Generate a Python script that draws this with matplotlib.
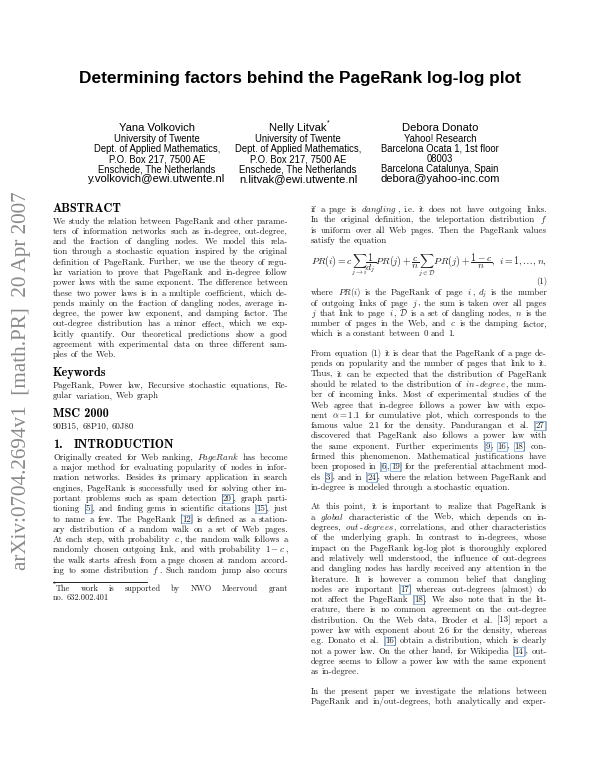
import re
import matplotlib
matplotlib.use("Agg")
import matplotlib.pyplot as plt
from matplotlib.patches import Rectangle
from matplotlib.lines import Line2D

plt.rcParams["mathtext.fontset"] = "cm"

# ------------------------------------------------------------------ content
title = "Determining factors behind the PageRank log-log plot"
authors = ["Yana Volkovich", "Nelly Litvak", "Debora Donato"]
author_marks = ["", "*", ""]
affiliations = [
    ["University of Twente", "Dept. of Applied Mathematics,",
     "P.O. Box 217, 7500 AE", "Enschede, The Netherlands"],
    ["University of Twente", "Dept. of Applied Mathematics,",
     "P.O. Box 217, 7500 AE", "Enschede, The Netherlands"],
    ["Yahoo! Research", "Barcelona Ocata 1, 1st floor",
     "08003", "Barcelona Catalunya, Spain"],
]
emails = ["y.volkovich@ewi.utwente.nl", "n.litvak@ewi.utwente.nl",
          "debora@yahoo-inc.com"]
stamp = "arXiv:0704.2694v1  [math.PR]  20 Apr 2007"

heading_abstract = "ABSTRACT"
abstract_lines = [
    "We study the relation between PageRank and other parame-",
    "ters of information networks such as in-degree, out-degree,",
    "and the fraction of dangling nodes.  We model this rela-",
    "tion through a stochastic equation inspired by the original",
    "definition of PageRank. Further, we use the theory of regu-",
    "lar variation to prove that PageRank and in-degree follow",
    "power laws with the same exponent. The difference between",
    "these two power laws is in a multiple coefficient, which de-",
    "pends mainly on the fraction of dangling nodes, average in-",
    "degree, the power law exponent, and damping factor. The",
    "out-degree distribution has a minor effect, which we exp-",
    "licitly quantify. Our theoretical predictions show a good",
    "agreement with experimental data on three different sam-",
    "ples of the Web.",
]
heading_keywords = "Keywords"
keywords_lines = [
    "PageRank, Power law, Recursive stochastic equations, Re-",
    "gular variation, Web graph",
]
heading_msc = "MSC 2000"
msc_lines = ["90B15, 68P10, 60J80"]
heading_intro_num = "1."
heading_intro = "INTRODUCTION"
intro_lines = [
    "Originally created for Web ranking, ~PageRank~ has become",
    "a major method for evaluating popularity of nodes in infor-",
    "mation networks. Besides its primary application in search",
    "engines, PageRank is successfully used for solving other im-",
    "portant problems such as spam detection [{20}], graph parti-",
    "tioning [{5}], and finding gems in scientific citations [{15}], just",
    "to name a few. The PageRank [{12}] is defined as a station-",
    "ary distribution of a random walk on a set of Web pages.",
    "At each step, with probability $c$, the random walk follows a",
    "randomly chosen outgoing link, and with probability $1-c$,",
    "the walk starts afresh from a page chosen at random accord-",
    "ing to some distribution $f$. Such random jump also occurs",
]
footnote_lines = [
    "^*^The work is supported by NWO Meervoud grant",
    "no. 632.002.401",
]

right_p1 = [
    "if a page is ~dangling~, i.e. it does not have outgoing links.",
    "In the original definition, the teleportation distribution $f$",
    "is uniform over all Web pages. Then the PageRank values",
    "satisfy the equation",
]
equation = (r"$PR(i)=c\sum_{j\rightarrow i}\dfrac{1}{d_j}PR(j)+\dfrac{c}{n}"
            r"\sum_{j\in\mathcal{D}}PR(j)+\dfrac{1-c}{n},\ i=1,\ldots,n,$")
equation_number = "(1)"
right_p2 = [
    "where $PR(i)$ is the PageRank of page $i$, $d_j$ is the number",
    "of outgoing links of page $j$, the sum is taken over all pages",
    "$j$ that link to page $i$, $\\mathcal{D}$ is a set of dangling nodes, $n$ is the",
    "number of pages in the Web, and $c$ is the damping factor,",
    "which is a constant between 0 and 1.",
]
right_p3 = [
    "From equation (1) it is clear that the PageRank of a page de-",
    "pends on popularity and the number of pages that link to it.",
    "Thus, it can be expected that the distribution of PageRank",
    "should be related to the distribution of ~in-degree~, the num-",
    "ber of incoming links. Most of experimental studies of the",
    "Web agree that in-degree follows a power law with expo-",
    "nent $\\alpha=1.1$ for cumulative plot, which corresponds to the",
    "famous value 2.1 for the density. Pandurangan et al. [{27}]",
    "discovered that PageRank also follows a power law with",
    "the same exponent. Further experiments [{9}, {16}, {18}] con-",
    "firmed this phenomenon. Mathematical justifications have",
    "been proposed in [{6}, {19}] for the preferential attachment mod-",
    "els [{3}], and in [{24}], where the relation between PageRank and",
    "in-degree is modeled through a stochastic equation.",
]
right_p4 = [
    "At this point, it is important to realize that PageRank is",
    "a ~global~ characteristic of the Web, which depends on in-",
    "degrees, ~out-degrees~, correlations, and other characteristics",
    "of the underlying graph. In contrast to in-degrees, whose",
    "impact on the PageRank log-log plot is thoroughly explored",
    "and relatively well understood, the influence of out-degrees",
    "and dangling nodes has hardly received any attention in the",
    "literature. It is however a common belief that dangling",
    "nodes are important [{17}] whereas out-degrees (almost) do",
    "not affect the PageRank [{18}]. We also note that in the lit-",
    "erature, there is no common agreement on the out-degree",
    "distribution. On the Web data, Broder et al. [13] report a",
    "power law with exponent about 2.6 for the density, whereas",
    "e.g. Donato et al. [{16}] obtain a distribution, which is clearly",
    "not a power law. On the other hand, for Wikipedia [{14}], out-",
    "degree seems to follow a power law with the same exponent",
    "as in-degree.",
]
right_p5 = [
    "In the present paper we investigate the relations between",
    "PageRank and in/out-degrees, both analytically and exper-",
]

# ------------------------------------------------------------------ page setup
W, H = 600, 776
fig = plt.figure(figsize=(W / 100, H / 100), dpi=100)
fig.patch.set_facecolor("white")
ax = fig.add_axes([0, 0, 1, 1])
ax.set_xlim(0, W)
ax.set_ylim(H, 0)
ax.axis("off")
R = fig.canvas.get_renderer()

INK = "#1e1e1e"
LINK = "#93bce8"
BODY = 6.4
HEAD = 8.8
LEAD = 10.3
LX0, LX1 = 53, 288
RX0, RX1 = 311, 547
SANS = "Liberation Sans"


def px(pt):
    return pt * 100 / 72


SEG_RE = re.compile(r"(\$[^$]+\$|\{[^}]+\}|~[^~]+~|\^[^^]+\^)")


def parse(word):
    out = []
    for part in SEG_RE.split(word):
        if not part:
            continue
        if part[0] == "$":
            out.append(("math", part))
        elif part[0] == "{":
            out.append(("cite", part[1:-1]))
        elif part[0] == "~":
            pieces = part[1:-1].split("-")
            for k, p in enumerate(pieces):
                if k:
                    out.append(("rm", "-"))
                if p:
                    out.append(("it", r"$\mathit{" + p + "}$"))
        elif part[0] == "^":
            out.append(("sup", part[1:-1]))
        else:
            out.append(("rm", part))
    return out


def seg_artist(kind, s, y, size, family, color):
    if kind in ("rm", "cite"):
        t = ax.text(0, y, s, fontsize=size, family=family, color=color,
                    va="baseline", ha="left")
    elif kind in ("math", "it"):
        t = ax.text(0, y, s, fontsize=size, color=color,
                    va="baseline", ha="left")
    else:
        t = ax.text(0, y - 0.42 * px(size), s, fontsize=size * 0.7,
                    family=family, color=color, va="baseline", ha="left")
    return t, t.get_window_extent(R).width, kind


def draw_line(line, x0, x1, y, size=BODY, family="cmr10", justify=True,
              color=INK):
    words = [[seg_artist(k, s, y, size, family, color) for k, s in parse(wd)]
             for wd in line.split()]
    widths = [sum(w for _, w, _ in segs) for segs in words]
    n = len(words)
    gap = 0.3333 * px(size)
    if justify and n > 1:
        gap = (x1 - x0 - sum(widths)) / (n - 1)
    x = x0
    for segs in words:
        for t, w, k in segs:
            t.set_x(x)
            if k == "cite":
                top = y - 0.70 * px(size) - 0.4
                ax.add_patch(Rectangle((x - 0.6, top), w + 1.2,
                                       (y + 1.9) - top, fill=False,
                                       ec=LINK, lw=0.7))
            x += w
        x += gap


def draw_par(lines, x0, x1, y0, lead=LEAD, last_justified=False, **kw):
    for i, ln in enumerate(lines):
        last = i == len(lines) - 1
        draw_line(ln, x0, x1, y0 + i * lead,
                  justify=(not last) or last_justified, **kw)
    return y0 + (len(lines) - 1) * lead


def heading(s, x, y):
    return ax.text(x, y, s, fontsize=HEAD, family="cmb10", color="black",
                   va="baseline", ha="left")


# ------------------------------------------------------------------ header
ax.text(300, 83, title, fontsize=12.4, family=SANS, weight="bold",
        color="black", ha="center", va="baseline")

col_x = [157, 298, 440]
for xc, name, mark, aff, mail in zip(col_x, authors, author_marks,
                                     affiliations, emails):
    t = ax.text(xc, 131, name, fontsize=8.1, family=SANS, color="black",
                ha="center", va="baseline")
    if mark:
        w = t.get_window_extent(R).width
        ax.text(xc + w / 2 + 0.6, 124.5, mark, fontsize=5.0, family=SANS,
                color="black", ha="left", va="baseline")
    for j, a in enumerate(aff):
        ax.text(xc, 141.5 + j * 10.3, a, fontsize=6.85, family=SANS,
                color="black", ha="center", va="baseline")
    ax.text(xc, 182.5, mail, fontsize=8.1, family=SANS, color="black",
            ha="center", va="baseline")

ax.text(22, 381, stamp, rotation=90, fontsize=15.2, family="Liberation Serif",
        color="#8a8a8a", ha="center", va="center")

# ------------------------------------------------------------------ left column
heading(heading_abstract, LX0, 212)
y = draw_par(abstract_lines, LX0, LX1, 223.5)

y += 19
heading(heading_keywords, LX0, y)
y = draw_par(keywords_lines, LX0, LX1, y + 11.5)

y += 19
heading(heading_msc, LX0, y)
y = draw_par(msc_lines, LX0, LX1, y + 11.5)

y += 19.5
heading(heading_intro_num, LX0, y)
heading(heading_intro, LX0 + 21, y)
y = draw_par(intro_lines, LX0, LX1, y + 11.5, last_justified=True)

y_rule = y + 8.5
ax.add_line(Line2D([LX0, LX0 + 94], [y_rule, y_rule], color="black", lw=0.6))
draw_par(footnote_lines, LX0, LX1, y_rule + 9.5, lead=8.6, size=6.0)

# ------------------------------------------------------------------ right column
y = draw_par(right_p1, RX0, RX1, 212)

y_eq = y + 21.6
eq = ax.text(0, y_eq, equation, fontsize=BODY, color=INK, va="baseline",
             ha="left")
w = eq.get_window_extent(R).width
eq.set_fontsize(BODY * (RX1 - RX0) / w)
w = eq.get_window_extent(R).width
eq.set_x(RX0 + (RX1 - RX0 - w) / 2)

y_num = y_eq + 20
ax.text(RX1, y_num, equation_number, fontsize=BODY, family="cmr10",
        color=INK, ha="right", va="baseline")

y = draw_par(right_p2, RX0, RX1, y_num + 10.8)
y = draw_par(right_p3, RX0, RX1, y + 19.5)
y = draw_par(right_p4, RX0, RX1, y + 19.5)
y = draw_par(right_p5, RX0, RX1, y + 19.5, last_justified=True)

fig.savefig("out.png", dpi=100, facecolor="white")
